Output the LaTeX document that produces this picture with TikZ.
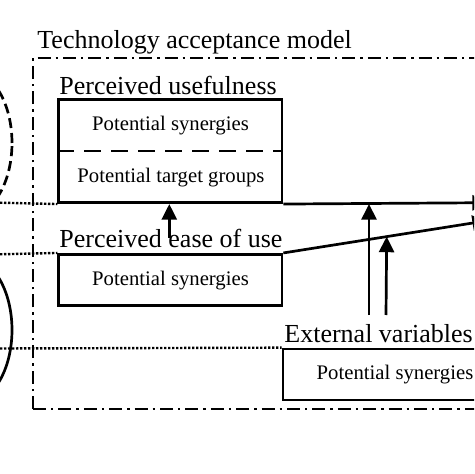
\documentclass[tikz,border=0pt]{standalone}
\usepackage{fontspec}
\setmainfont{Liberation Serif}
\usetikzlibrary{arrows.meta,calc,shapes.geometric}
\tikzset{
  big/.style={font=\fontsize{13}{15}\selectfont, inner sep=0pt, anchor=base west},
  small/.style={font=\fontsize{10.35}{12}\selectfont, inner sep=0pt},
  boxnode/.style={draw, line width=1.35pt, inner sep=0pt},
  framedash/.style={line width=1.35pt, dash pattern=on 6.5pt off 2.5pt on 1.2pt off 2.5pt},
  dotline/.style={line width=1.2pt, dash pattern=on 1.2pt off 0.8pt},
  conn/.style={line width=1.35pt},
  arr/.style={conn, -{Triangle[length=7.8pt,width=7.5pt]}}
}
\begin{document}
\begin{tikzpicture}[x=0.5pt,y=-0.5pt]
\useasboundingbox (0,0) rectangle (474,474);
\clip (0,0) rectangle (474,474);
% left ellipses
\node[draw, ellipse, line width=1.35pt, dash pattern=on 5pt off 2.5pt, minimum width=44pt, minimum height=73pt] (e1) at (-32,143) {};
\node[draw, ellipse, line width=1.35pt, minimum width=44pt, minimum height=73pt] (e2) at (-32,330) {};
% frame
\draw[framedash] (33,409) -- (33,58) -- (600,58);
\draw[framedash] (33,409) -- (600,409);
\node[big] (tam) at (37,49) {Technology acceptance model};
% perceived usefulness
\node[big] (pul) at (59,95) {Perceived usefulness};
\node[boxnode, minimum width=111.65pt, minimum height=51.7pt] (pu) at (170.35,151) {};
\draw[line width=1.35pt, dash pattern=on 8.5pt off 5pt] (pu.west) -- (pu.east);
\node[small] (pu1) at (170.5,126) {Potential synergies};
\node[small] (pu2) at (171,178) {Potential target groups};
% perceived ease of use
\node[big] (peul) at (59,247.5) {Perceived ease of use};
\node[boxnode, minimum width=111.65pt, minimum height=25.7pt] (peu) at (170.35,280) {};
\node[small] (peu1) at (170.5,281) {Potential synergies};
% external variables
\node[big] (evl) at (284,342.7) {External variables};
\node[boxnode, minimum width=112pt, minimum height=25.5pt] (ev) at (395,374.5) {};
\node[small] (ev1) at (395,375) {Potential synergies};
% connectors
\coordinate (r1) at (488,202.7);
\coordinate (r2) at (488,220.6);
\coordinate (a1) at (169.3,238);
\coordinate (a2) at (369,315);
\coordinate (a3) at (386,315);
\draw[arr] (pu.south east) -- (r1);
\draw[arr] (peu.north east) -- (r2);
\draw[arr] (a1) -- (a1 |- pu.south);
\draw[arr] (a2) -- (a2 |- pu.south);
\draw[arr] (a3) -- ($(peu.north east)!0.5049!(r2)$);
% dotted lines
\coordinate (d1) at (0,202.7);
\coordinate (d2) at (0,254.3);
\coordinate (d3) at (0,348.5);
\draw[dotline] (d1) -- (pu.south west);
\draw[dotline] (d2) -- (peu.north west);
\draw[dotline] (d3) -- (ev.north west);
\end{tikzpicture}
\end{document}
